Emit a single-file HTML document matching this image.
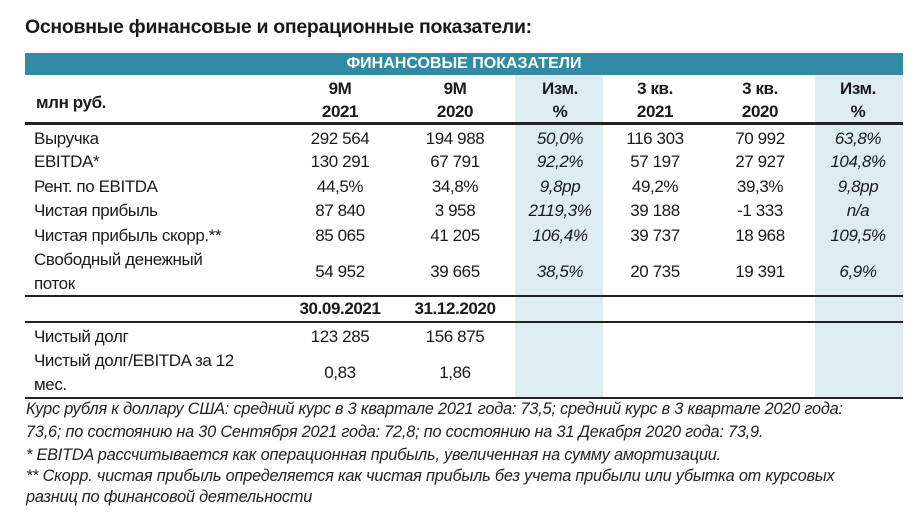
<!DOCTYPE html>
<html><head><meta charset="utf-8"><style>
body{margin:0;width:920px;height:524px;background:#fff;font-family:"Liberation Sans","DejaVu Sans",sans-serif;color:#1a1a1a;position:relative;overflow:hidden}
.a{position:absolute;white-space:nowrap}
.t{font-size:17px;letter-spacing:-0.4px}
.c{transform:translateX(-50%);text-align:center}
.i{font-style:italic}
.b{font-weight:bold}
.sh{position:absolute;background:#deedf2;top:75px;height:323px}
.ln{position:absolute;left:25px;width:878px;background:#222}
.fn{position:absolute;left:26px;font-size:16.3px;font-style:italic;letter-spacing:-0.2px;color:#222;white-space:nowrap}
</style></head><body>
<div class="a b" style="left:25px;top:16px;font-size:19.5px;letter-spacing:-0.3px">Основные финансовые и операционные показатели:</div>
<div class="a" style="left:25px;top:53px;width:878px;height:22px;background:#2f8ca4;color:#fff;font-weight:bold;font-size:16px;text-align:center;line-height:22px">ФИНАНСОВЫЕ ПОКАЗАТЕЛИ</div>
<div class="sh" style="left:515px;width:88px"></div>
<div class="sh" style="left:815px;width:88px"></div>
<div class="ln" style="top:122px;height:3px"></div>
<div class="ln" style="top:295px;height:1.5px"></div>
<div class="ln" style="top:321px;height:1.5px"></div>
<div class="ln" style="top:397px;height:1.5px"></div>
<div id="tbl"></div>
<div class="fn" style="top:400px">Курс рубля к доллару США: средний курс в 3 квартале 2021 года: 73,5; средний курс в 3 квартале 2020 года:</div>
<div class="fn" style="top:423px">73,6; по состоянию на 30 Сентября 2021 года: 72,8; по состоянию на 31 Декабря 2020 года: 73,9.</div>
<div class="fn" style="top:446px">* EBITDA рассчитывается как операционная прибыль, увеличенная на сумму амортизации.</div>
<div class="fn" style="top:467px">** Скорр. чистая прибыль определяется как чистая прибыль без учета прибыли или убытка от курсовых</div>
<div class="fn" style="top:488px">разниц по финансовой деятельности</div>
<script>
const colX=[340,455,560,655,760,858];
const headers=[["9M","2021"],["9M","2020"],["Изм.","%"],["3 кв.","2021"],["3 кв.","2020"],["Изм.","%"]];
const rowLabels=[["Выручка"],["EBITDA*"],["Рент. по EBITDA"],["Чистая прибыль"],["Чистая прибыль скорр.**"],["Свободный денежный","поток"]];
const rowValues=[
["292 564","194 988","50,0%","116 303","70 992","63,8%"],
["130 291","67 791","92,2%","57 197","27 927","104,8%"],
["44,5%","34,8%","9,8pp","49,2%","39,3%","9,8pp"],
["87 840","3 958","2119,3%","39 188","-1 333","n/a"],
["85 065","41 205","106,4%","39 737","18 968","109,5%"],
["54 952","39 665","38,5%","20 735","19 391","6,9%"]];
const rowY=[139,162,187,211,236,272];
const debtDates=["30.09.2021","31.12.2020"];
const debtLabels=[["Чистый долг"],["Чистый долг/EBITDA за 12","мес."]];
const debtValues=[["123 285","156 875"],["0,83","1,86"]];
const debtY=[337,373];
const T=document.getElementById('tbl');
function put(txt,x,yc,cls,name,center){
 const d=document.createElement('div');
 d.className='a t '+cls+(center?' c':'');
 d.style.left=x+'px';d.style.top=(yc-10)+'px';
 d.textContent=txt;
 
 
 T.appendChild(d);
}
put("млн руб.",36,103,'b','unit-label',false);
headers.forEach((h,i)=>{put(h[0],colX[i],89,'b','col-header-top',true);put(h[1],colX[i],112,'b','col-header-bottom',true);});
rowLabels.forEach((l,r)=>{
 if(l.length===1)put(l[0],34,rowY[r],'','row-label',false);
 else{put(l[0],34,rowY[r]-12,'','row-label',false);put(l[1],34,rowY[r]+12,'','row-label',false);}
 rowValues[r].forEach((v,i)=>put(v,colX[i],rowY[r],(i===2||i===5)?'i':'','cell-value',true));
});
debtDates.forEach((d,i)=>put(d,colX[i],309,'b','date-header',true));
debtLabels.forEach((l,r)=>{
 if(l.length===1)put(l[0],34,debtY[r],'','row-label',false);
 else{put(l[0],34,debtY[r]-12,'','row-label',false);put(l[1],34,debtY[r]+12,'','row-label',false);}
 debtValues[r].forEach((v,i)=>put(v,colX[i],debtY[r],'','cell-value',true));
});
</script>
</body></html>
